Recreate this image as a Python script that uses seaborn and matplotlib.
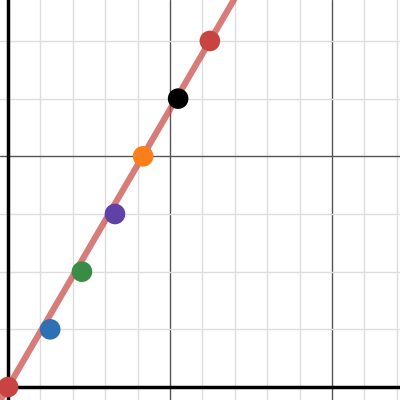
import matplotlib
matplotlib.use("Agg")
import matplotlib.pyplot as plt
import numpy as np
import pandas as pd
import seaborn as sb

# points
xs = [0.0, 1.3, 2.28, 3.3, 4.17, 5.25, 6.23]
ys = [0, 1, 2, 3, 4, 5, 6]
colors = ['#c74440', '#2d70b3', '#388c46', '#6042a6', '#fa7e19', '#000000', '#c74440']
slope = 0.963

sb.set_style('white')
fig = plt.figure(figsize=(4, 4), dpi=100)
ax = fig.add_axes([0, 0, 1, 1])
xmin, xmax = -0.25, 12.1
ymin, ymax = -0.225, 6.71
ax.set_xlim(xmin, xmax)
ax.set_ylim(ymin, ymax)

for v in np.arange(1, 13):
    ax.axvline(v, color='#555555' if v % 5 == 0 else '#dddddd', lw=1, zorder=0)
for v in np.arange(1, 7):
    ax.axhline(v, color='#555555' if v % 4 == 0 else '#dddddd', lw=1, zorder=0)
ax.axvline(0, color='black', lw=2.5, zorder=1)
ax.axhline(0, color='black', lw=2.5, zorder=1)

lx = np.array([xmin, xmax])
ax.plot(lx, slope * lx, color='#c74440', alpha=0.7, lw=4.5, zorder=2)

df = pd.DataFrame({'x': xs, 'y': ys, 'c': [str(i) for i in range(len(xs))]})
sb.scatterplot(data=df, x='x', y='y', hue='c', palette=colors, s=220,
               edgecolor='none', legend=False, ax=ax, zorder=3)

ax.set_xticks([])
ax.set_yticks([])
ax.set_xlabel('')
ax.set_ylabel('')
for s in ax.spines.values():
    s.set_visible(False)
plt.savefig('out.png', dpi=100)
